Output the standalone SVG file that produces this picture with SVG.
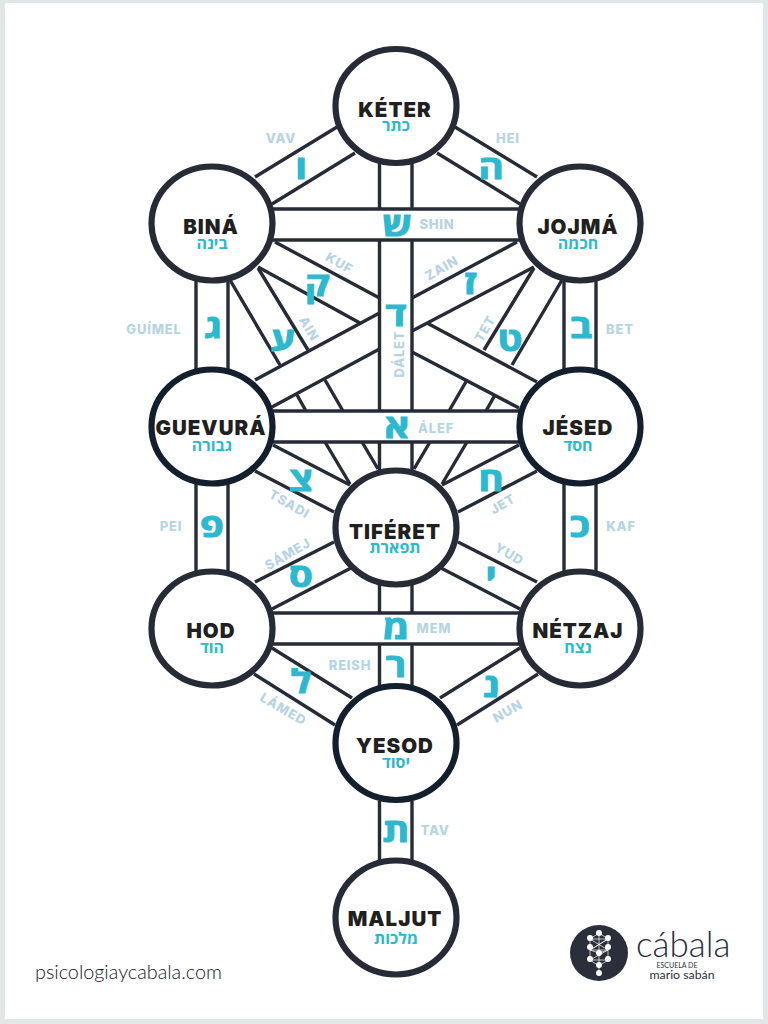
<svg xmlns="http://www.w3.org/2000/svg" width="768" height="1024" viewBox="0 0 768 1024">
<style>
.c{fill:none;stroke:#272b36;stroke-width:3.4}
.n{fill:#fff;stroke:#272b36;stroke-width:6.2}
.d{stroke:#141f2e}
.t{font-family:"Inter",sans-serif;font-weight:900;font-size:20.5px;fill:#221f20;text-anchor:middle;letter-spacing:1px}
.h{font-family:"Open Sans","DejaVu Sans",sans-serif;font-weight:700;font-size:16px;fill:#2cb9cf;text-anchor:middle}
.b{font-family:"Open Sans","DejaVu Sans",sans-serif;font-weight:700;font-size:32px;fill:#2cb9cf;stroke:#2cb9cf;stroke-width:1;text-anchor:middle}
.l{font-family:"Inter",sans-serif;font-weight:800;font-size:13px;fill:#b6d4e4;text-anchor:middle;letter-spacing:.8px}
.w{fill:#fff}
.g{stroke:#fff;stroke-width:.7;fill:none}
</style>
<rect width="768" height="1024" fill="#e2e6e7"/>
<rect x="5" y="3" width="758" height="1016" fill="#fff"/>
<g id="connectors">
<path class="c" d="M255 177L337 127M272 204L355 153M537 177L455 127M520 204L437 153"/>
<path class="c" d="M379.500 163V209M412 163V209M379.500 240V411M412 240V411M379.500 442V470M412 442V470M379.500 585V613M412 585V613M379.500 644V686M412 644V686M379.500 801V860M412 801V860"/>
<path class="c" d="M272 209H520M272 240H520M272 411H520M272 442H520M272 613H520M272 644H520"/>
<path class="c" d="M196 281V369M228 281V369M564 281V369M596 281V369M196 484V572M228 484V572M564 484V572M596 484V572"/>
<path class="c" d="M275 242L379.500 298M258 267L360 323M255 380L379.500 313M272 407L379.500 349"/>
<path class="c" d="M517 242L412 298M534 267L412 331M537 382L427 323M519 408L412 352"/>
<path class="c" d="M230 280L280 365M258 268L308 350M297 395L306 411M325 380L343 411M325 442L350 484M362 442L378 469"/>
<path class="c" d="M562 280L512 365M534 268L484 350M495 395L486 411M467 380L449 411M467 442L442 484M430 442L414 469"/>
<path class="c" d="M273 445L350 485M255 471L334 512M519 445L442 485M537 471L458 512"/>
<path class="c" d="M255 582L334 542M272 609L351 568M537 582L458 542M520 609L441 568"/>
<path class="c" d="M272 648L352 698M254 674L335 725M520 648L440 698M538 674L457 725"/>
</g>
<g id="letters">
<text class="b" transform="translate(301 179) scale(1.200 1)">ו</text><text class="b" transform="translate(491 179) scale(1.200 1)">ה</text><text class="b" transform="translate(397 236) scale(1.200 1)">ש</text>
<text class="b" transform="translate(317 296) scale(1.200 1)">ק</text><text class="b" transform="translate(470 294) scale(1.200 1)">ז</text><text class="b" transform="translate(396 326) scale(1.200 1)">ד</text>
<text class="b" transform="translate(213 338) scale(1.200 1)">ג</text><text class="b" transform="translate(581 338) scale(1.200 1)">ב</text><text class="b" transform="translate(283 351) scale(1.200 1)">ע</text><text class="b" transform="translate(510 351) scale(1.200 1)">ט</text>
<text class="b" transform="translate(397 438) scale(1.200 1)">א</text><text class="b" transform="translate(301 491) scale(1.200 1)">צ</text><text class="b" transform="translate(491 491) scale(1.200 1)">ח</text>
<text class="b" transform="translate(212 537) scale(1.200 1)">פ</text><text class="b" transform="translate(580 537) scale(1.200 1)">כ</text><text class="b" transform="translate(301 587) scale(1.200 1)">ס</text><text class="b" transform="translate(491 588) scale(1.200 1)">י</text>
<text class="b" transform="translate(396 639) scale(1.200 1)">מ</text><text class="b" transform="translate(301 693) scale(1.200 1)">ל</text><text class="b" transform="translate(491 697) scale(1.200 1)">נ</text><text class="b" transform="translate(396 677) scale(1.200 1)">ר</text><text class="b" transform="translate(396 842) scale(1.200 1)">ת</text>
</g>
<g id="labels">
<text class="l" x="281" y="143">VAV</text><text class="l" x="508" y="143">HEI</text><text class="l" x="437" y="229">SHIN</text><text class="l" x="436" y="433">ÁLEF</text>
<text class="l" x="154" y="334">GUÍMEL</text><text class="l" x="620" y="334">BET</text><text class="l" x="171" y="531">PEI</text><text class="l" x="621" y="531">KAF</text>
<text class="l" x="434" y="633">MEM</text><text class="l" x="350" y="670">REISH</text><text class="l" x="435" y="835">TAV</text>
<text class="l" transform="translate(337 267) rotate(30)">KUF</text><text class="l" transform="translate(444 272) rotate(-30)">ZAIN</text>
<text class="l" transform="translate(305 331) rotate(60)">AIN</text><text class="l" transform="translate(489 331) rotate(-60)">TET</text>
<text class="l" transform="translate(404 354) rotate(-90)">DÁLET</text>
<text class="l" transform="translate(287 508) rotate(30)">TSADI</text><text class="l" transform="translate(505 508) rotate(-30)">JET</text>
<text class="l" transform="translate(290 558) rotate(-30)">SÁMEJ</text><text class="l" transform="translate(507 558) rotate(30)">YUD</text>
<text class="l" transform="translate(281 713) rotate(30)">LÁMED</text><text class="l" transform="translate(510 715) rotate(-30)">NUN</text>
</g>
<g id="keter"><ellipse class="n" cx="396" cy="106" rx="60.500" ry="57"/><text class="t" x="395" y="117">KÉTER</text><text class="h" x="396" y="131">כתר</text></g>
<g id="bina"><ellipse class="n" cx="212" cy="223.500" rx="60.500" ry="57"/><text class="t" x="211" y="234">BINÁ</text><text class="h" x="212" y="249">בינה</text></g>
<g id="jojma"><ellipse class="n" cx="580" cy="223.500" rx="60.500" ry="57"/><text class="t" x="578" y="234">JOJMÁ</text><text class="h" x="578" y="249">חכמה</text></g>
<g id="guevura"><ellipse class="n d" cx="212" cy="426.500" rx="60.500" ry="57"/><text class="t" x="211" y="435">GUEVURÁ</text><text class="h" x="212" y="451">גבורה</text></g>
<g id="jesed"><ellipse class="n d" cx="580" cy="426.500" rx="60.500" ry="57"/><text class="t" x="578" y="435">JÉSED</text><text class="h" x="578" y="451">חסד</text></g>
<g id="tiferet"><ellipse class="n" cx="396" cy="527.500" rx="60.500" ry="57"/><text class="t" x="395" y="539">TIFÉRET</text><text class="h" x="395" y="553">תפארת</text></g>
<g id="hod"><ellipse class="n" cx="212" cy="628.500" rx="60.500" ry="57"/><text class="t" x="211" y="638">HOD</text><text class="h" x="212" y="653">הוד</text></g>
<g id="netzaj"><ellipse class="n" cx="580" cy="628.500" rx="60.500" ry="57"/><text class="t" x="578" y="638">NÉTZAJ</text><text class="h" x="578" y="653">נצח</text></g>
<g id="yesod"><ellipse class="n d" cx="396" cy="743" rx="60.500" ry="57"/><text class="t" x="395" y="753">YESOD</text><text class="h" x="396" y="768">יסוד</text></g>
<g id="maljut"><ellipse class="n" cx="396" cy="917.500" rx="60.500" ry="57"/><text class="t" x="395" y="926">MALJUT</text><text class="h" x="396" y="944">מלכות</text></g>
<text x="35" y="979" font-family="Lato,sans-serif" font-weight="300" font-size="19.800" fill="#15171f">psicologiaycabala.com</text>
<g id="logo">
<ellipse cx="599" cy="953" rx="29" ry="28" fill="#2b2f3a"/>
<path class="g" d="M599 933V975M590 939H608L590 950H608L590 960H608M590 939V960M608 939V960M599 933L590 939M599 933L608 939M590 960L599 966L608 960M590 939L608 950M608 939L590 950M590 950L599 953L608 950"/>
<g class="w"><circle cx="599" cy="933" r="3"/><circle cx="590" cy="938" r="3"/><circle cx="608" cy="938" r="3"/><circle cx="590" cy="947" r="3"/><circle cx="608" cy="947" r="3"/><circle cx="599" cy="953" r="3"/><circle cx="590" cy="959" r="3"/><circle cx="608" cy="959" r="3"/><circle cx="599" cy="965" r="3"/><circle cx="599" cy="973" r="3"/></g>
<text x="636" y="957" font-family="Lato,sans-serif" font-weight="300" font-size="35" fill="#2b2f3a">cábala</text>
<text x="677" y="968" font-family="Lato,sans-serif" font-size="7" fill="#2b2f3a" text-anchor="middle">ESCUELA DE</text>
<text x="682" y="979" font-family="Lato,sans-serif" font-size="12.300" fill="#2b2f3a" text-anchor="middle">mario sabán</text>
</g>
</svg>
